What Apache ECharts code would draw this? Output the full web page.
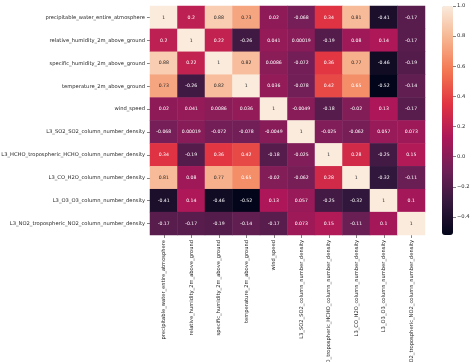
<!DOCTYPE html>
<html>
<head>
<meta charset="utf-8">
<script src="https://cdn.jsdelivr.net/npm/echarts@6/dist/echarts.min.js"></script>
<style>html,body{margin:0;padding:0;background:#fff}#c{width:474px;height:362px}</style>
</head>
<body>
<div id="c"></div>
<script>
const categories = [
  'precipitable_water_entire_atmosphere',
  'relative_humidity_2m_above_ground',
  'specific_humidity_2m_above_ground',
  'temperature_2m_above_ground',
  'wind_speed',
  'L3_SO2_SO2_column_number_density',
  'L3_HCHO_tropospheric_HCHO_column_number_density',
  'L3_CO_H2O_column_number_density',
  'L3_O3_O3_column_number_density',
  'L3_NO2_tropospheric_NO2_column_number_density'
];
const row0 = [1, 0.2, 0.88, 0.73, 0.02, -0.068, 0.34, 0.81, -0.41, -0.17];
const row1 = [0.2, 1, 0.22, -0.26, 0.041, 0.00019, -0.19, 0.08, 0.14, -0.17];
const row2 = [0.88, 0.22, 1, 0.82, 0.0086, -0.072, 0.36, 0.77, -0.46, -0.19];
const row3 = [0.73, -0.26, 0.82, 1, 0.036, -0.078, 0.42, 0.65, -0.52, -0.14];
const row4 = [0.02, 0.041, 0.0086, 0.036, 1, -0.0049, -0.18, -0.02, 0.13, -0.17];
const row5 = [-0.068, 0.00019, -0.072, -0.078, -0.0049, 1, -0.025, -0.062, 0.057, 0.073];
const row6 = [0.34, -0.19, 0.36, 0.42, -0.18, -0.025, 1, 0.28, -0.25, 0.15];
const row7 = [0.81, 0.08, 0.77, 0.65, -0.02, -0.062, 0.28, 1, -0.32, -0.11];
const row8 = [-0.41, 0.14, -0.46, -0.52, 0.13, 0.057, -0.25, -0.32, 1, 0.1];
const row9 = [-0.17, -0.17, -0.19, -0.14, -0.17, 0.073, 0.15, -0.11, 0.1, 1];
const rows = [row0, row1, row2, row3, row4, row5, row6, row7, row8, row9];
const colorbarTicks = [-0.4, -0.2, 0.0, 0.2, 0.4, 0.6, 0.8, 1.0];
const vMin = -0.52, vMax = 1.0;

const rocket = ['#03051A', '#35193E', '#701F57', '#AD1759', '#E13342', '#F37651', '#F6B48F', '#FAEBDD'];
function hex2rgb(h) { return [1, 3, 5].map(i => parseInt(h.substr(i, 2), 16)); }
function colorAt(v) {
  let t = (v - vMin) / (vMax - vMin);
  t = Math.max(0, Math.min(1, t));
  const n = rocket.length - 1;
  const i = Math.min(n - 1, Math.floor(t * n));
  const f = t * n - i;
  const a = hex2rgb(rocket[i]), b = hex2rgb(rocket[i + 1]);
  return a.map((x, k) => x + (b[k] - x) * f);
}
function lum(rgb) {
  const c = rgb.map(x => { x /= 255; return x <= 0.03928 ? x / 12.92 : Math.pow((x + 0.055) / 1.055, 2.4); });
  return 0.2126 * c[0] + 0.7152 * c[1] + 0.0722 * c[2];
}

const data = [];
rows.forEach((r, yi) => r.forEach((v, xi) => {
  const dark = lum(colorAt(v)) > 0.408;
  data.push({ value: [xi, yi, v], label: { color: dark ? '#262626' : '#ffffff' } });
}));

const font = 'DejaVu Sans';
const chart = echarts.init(document.getElementById('c'), null, { renderer: 'canvas' });
chart.setOption({
  animation: false,
  backgroundColor: '#fff',
  grid: [
    { left: 150, top: 6, width: 275, height: 229, outerBoundsMode: 'none', containLabel: false },
    { left: 442, top: 6, width: 11, height: 229, outerBoundsMode: 'none', containLabel: false }
  ],
  xAxis: [
    {
      type: 'category', data: categories, gridIndex: 0,
      axisLine: { show: false },
      axisTick: { show: true, length: 3, lineStyle: { color: '#333', width: 0.6 }, alignWithLabel: true },
      axisLabel: { rotate: 90, fontSize: 5.2, fontFamily: font, color: '#262626', margin: 5, interval: 0 },
      splitLine: { show: false }
    },
    { type: 'category', gridIndex: 1, data: ['a'], show: false }
  ],
  yAxis: [
    {
      type: 'category', data: categories, gridIndex: 0, inverse: true,
      axisLine: { show: false },
      axisTick: { show: true, length: 3, lineStyle: { color: '#333', width: 0.6 }, alignWithLabel: true },
      axisLabel: { fontSize: 5.2, fontFamily: font, color: '#262626', margin: 5, interval: 0 },
      splitLine: { show: false }
    },
    {
      type: 'value', gridIndex: 1, min: vMin, max: vMax, position: 'right',
      axisLine: { show: false },
      splitLine: { show: false },
      axisTick: { show: true, length: 3, lineStyle: { color: '#333', width: 0.6 }, customValues: colorbarTicks },
      axisLabel: { fontSize: 5.2, fontFamily: font, color: '#262626', margin: 4, customValues: colorbarTicks,
        formatter: v => (Math.abs(v) < 1e-9 ? 0 : v).toFixed(1).replace('-', '\u2212') }
    }
  ],
  visualMap: {
    type: 'continuous', min: vMin, max: vMax, calculable: false,
    orient: 'vertical', left: 442, top: 6, itemWidth: 11, itemHeight: 229, padding: 0,
    inRange: { color: rocket }, seriesIndex: 0, hoverLink: false
  },
  series: [{
    type: 'heatmap', xAxisIndex: 0, yAxisIndex: 0,
    data: data,
    label: { show: true, fontSize: 4.6, fontFamily: font, formatter: p => String(p.value[2]) },
    itemStyle: { borderWidth: 0 },
    emphasis: { disabled: true }
  }]
});
</script>
</body>
</html>
